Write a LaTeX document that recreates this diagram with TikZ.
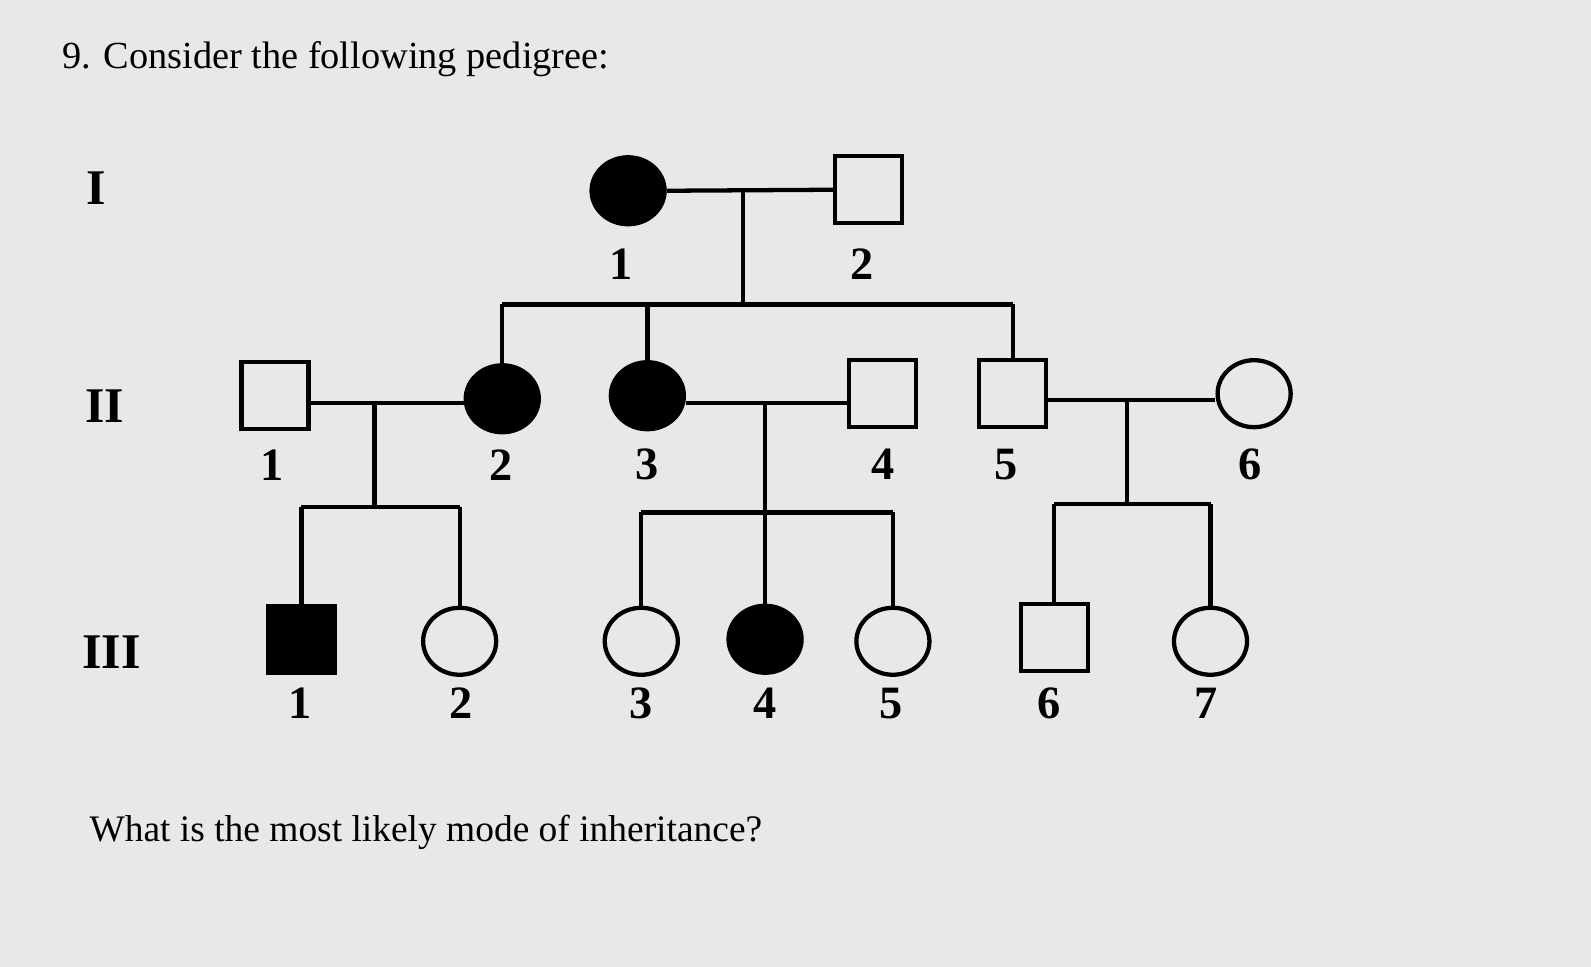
\documentclass[tikz,border=0pt]{standalone}
\usepackage{fontspec}
\usetikzlibrary{shapes.geometric}
\setmainfont{Liberation Serif}
\begin{document}
\begin{tikzpicture}[x=0.02cm,y=-0.02cm,
  ln/.style={line width=2.4pt,black},
  fem/.style={draw,line width=2.4pt,ellipse,minimum width=72*0.02cm,minimum height=66*0.02cm,inner sep=0pt},
  mal/.style={draw,line width=2.4pt,minimum size=66*0.02cm,inner sep=0pt},
  aff/.style={fill=black},
  lab/.style={font=\fontsize{26}{28}\selectfont\bfseries},
  gen/.style={font=\fontsize{28}{30}\selectfont\bfseries}]
\fill[gray!18] (0,0) rectangle (1568,953);
\useasboundingbox (0,0) rectangle (1568,953);
\node[anchor=west,font=\fontsize{21.5}{26}\selectfont] (title) at (55,58) {9. Consider the following pedigree:};
\node[anchor=west,font=\fontsize{21}{26}\selectfont] (q) at (82,820) {What is the most likely mode of inheritance?};
\node[gen] (gI) at (95,185) {I};
\node[gen] (gII) at (103,400) {II};
\node[gen] (gIII) at (110,643) {III};
% Gen I
\node[fem,aff] (a1) at (619,188) {};
\node[mal] (a2) at (856,187) {};
\node[lab] at (612,260) {1};
\node[lab] at (850,260) {2};
% Gen II
\node[mal] (b1) at (271,390) {};
\node[fem,aff] (b2) at (495,393) {};
\node[fem,aff] (b3) at (638,390) {};
\node[mal] (b4) at (870,388) {};
\node[mal] (b5) at (998,388) {};
\node[fem] (b6) at (1236,388) {};
\foreach \x/\t in {268/1,494/2,638/3,870/4,992/5,1232/6}{\node[lab] at (\x,458) {\t};}
% Gen III
\node[mal,aff] (c1) at (297,630) {};
\node[fem] (c2) at (453,632) {};
\node[fem] (c3) at (632,632) {};
\node[fem,aff] (c4) at (754,630) {};
\node[fem] (c5) at (880,632) {};
\node[mal] (c6) at (1039,628) {};
\node[fem] (c7) at (1193,632) {};
\foreach \x/\t in {296/1,454/2,632/3,754/4,878/5,1034/6,1189/7}{\node[lab] at (\x,693) {\t};}
% lines gen I
\draw[ln] (a1.east) -- (a2.west);
\draw[ln] (732,186) -- (732,300);
\draw[ln] (b2.north|-0,300) -- (b5.north|-0,300);
\draw[ln] (b2.north) -- (b2.north|-0,300);
\draw[ln] (b3.north) -- (b3.north|-0,300);
\draw[ln] (b5.north) -- (b5.north|-0,300);
% II-1 x II-2
\draw[ln] (b1.east|-0,397) -- (b2.west|-0,397);
\draw[ln] (369,397) -- (369,500);
\draw[ln] (c1.north|-0,500) -- (c2.north|-0,500);
\draw[ln] (c1.north) -- (c1.north|-0,500);
\draw[ln] (c2.north) -- (c2.north|-0,500);
% II-3 x II-4
\draw[ln] (b3.east|-0,397) -- (b4.west|-0,397);
\draw[ln] (754,397) -- (754,505);
\draw[ln] (c3.north|-0,505) -- (c5.north|-0,505);
\draw[ln] (c3.north) -- (c3.north|-0,505);
\draw[ln] (c4.north) -- (c4.north|-0,505);
\draw[ln] (c5.north) -- (c5.north|-0,505);
% II-5 x II-6
\draw[ln] (b5.east|-0,394) -- (b6.west|-0,394);
\draw[ln] (1111,394) -- (1111,497);
\draw[ln] (c6.north|-0,497) -- (c7.north|-0,497);
\draw[ln] (c6.north) -- (c6.north|-0,497);
\draw[ln] (c7.north) -- (c7.north|-0,497);
\end{tikzpicture}
\end{document}
